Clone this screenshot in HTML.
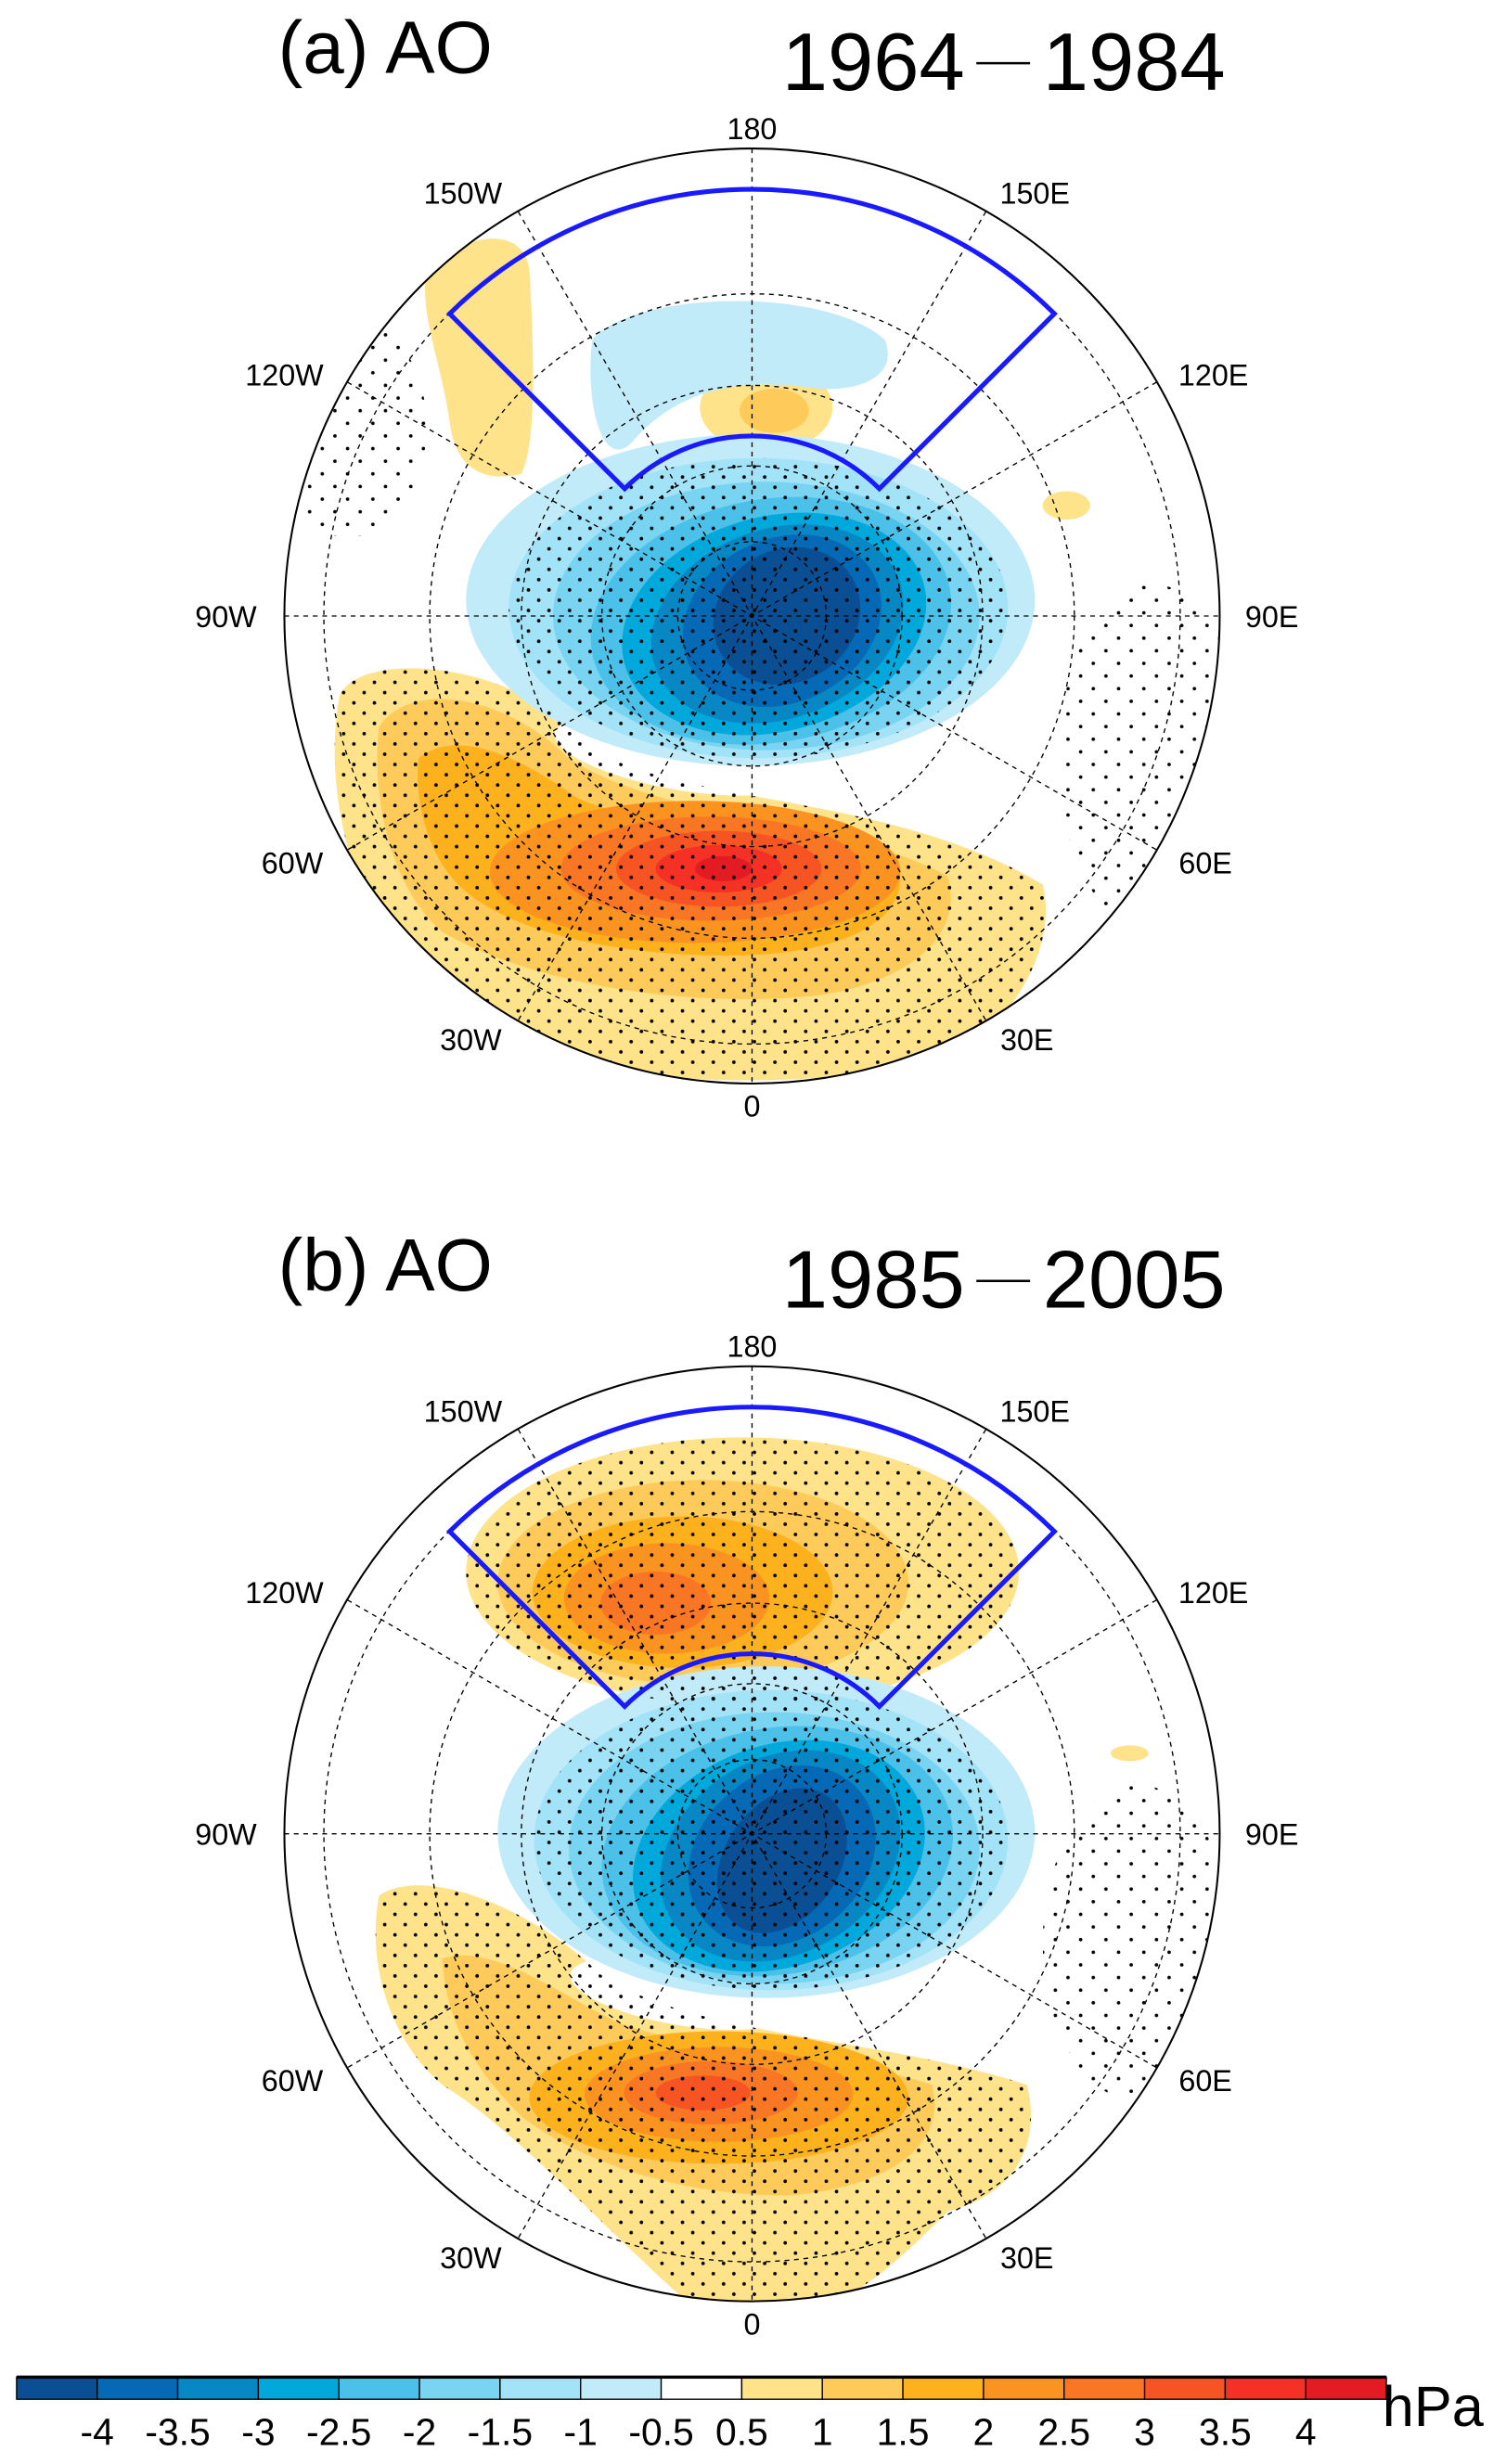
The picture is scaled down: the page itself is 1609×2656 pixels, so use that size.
<!DOCTYPE html>
<html><head><meta charset="utf-8"><style>html,body{margin:0;padding:0;background:#fff}svg{display:block}</style></head>
<body>
<svg width="1609" height="2656" viewBox="0 0 945 1560" preserveAspectRatio="none" xmlns="http://www.w3.org/2000/svg" font-family="Liberation Sans, sans-serif">
<defs>
<pattern id="dots" width="13" height="13" patternUnits="userSpaceOnUse"><circle cx="3" cy="3" r="1.1" fill="#000"/><circle cx="9.5" cy="9.5" r="1.1" fill="#000"/></pattern>
<pattern id="sdots" width="16" height="16" patternUnits="userSpaceOnUse"><circle cx="4" cy="4" r="1.1" fill="#000"/><circle cx="12" cy="12" r="1.1" fill="#000"/></pattern>
<clipPath id="ca"><circle cx="476" cy="390" r="296"/></clipPath>
<clipPath id="cb"><circle cx="476" cy="1161" r="296"/></clipPath>
</defs>

<text x="176" y="46" font-size="47">(a) AO</text>
<text x="495" y="57" font-size="52">1964</text><line x1="618" y1="40" x2="652" y2="40" stroke="#000" stroke-width="1.5"/><text x="660" y="57" font-size="52">1984</text>
<text x="176" y="817" font-size="47">(b) AO</text>
<text x="495" y="828" font-size="52">1985</text><line x1="618" y1="811" x2="652" y2="811" stroke="#000" stroke-width="1.5"/><text x="660" y="828" font-size="52">2005</text>

<g clip-path="url(#ca)">
 <path d="M270 170 C290 150 330 140 335 170 C338 220 340 280 330 300 C310 305 290 300 285 270 C280 230 265 200 270 170Z" fill="#fee38a"/>
 <ellipse cx="675" cy="320" rx="15" ry="9" fill="#fee38a"/>
 <path d="M215 440 C230 410 330 420 370 470 C420 510 560 500 660 560 C670 600 640 650 600 670 C520 690 400 690 300 660 C240 620 200 520 215 440Z" fill="#fee38a"/>
 <path d="M240 460 C260 430 320 440 360 480 C420 520 540 520 600 555 C610 590 580 620 520 630 C430 640 330 620 280 590 C245 560 235 500 240 460Z" fill="#fecb5a"/>
 <path d="M265 480 C290 460 330 480 365 505 C420 530 520 530 570 555 C570 590 520 605 460 605 C390 605 320 590 290 560 C270 540 262 505 265 480Z" fill="#fdb11c"/>
 <ellipse cx="440" cy="552" rx="130" ry="45" fill="#fb9320"/>
 <ellipse cx="450" cy="550" rx="95" ry="33" fill="#f97624"/>
 <ellipse cx="455" cy="550" rx="65" ry="24" fill="#f75423"/>
 <ellipse cx="455" cy="550" rx="40" ry="15" fill="#f43124"/>
 <ellipse cx="458" cy="550" rx="18" ry="8" fill="#e31b23"/>
 <ellipse cx="430" cy="478" rx="80" ry="22" fill="#fff" transform="rotate(10 430 478)"/>
 <ellipse cx="485" cy="258" rx="42" ry="28" fill="#fee38a"/>
 <ellipse cx="490" cy="260" rx="22" ry="14" fill="#fecb5a"/>
 <path d="M375 215 C400 185 520 180 560 215 C570 240 540 250 510 245 C470 240 430 245 400 280 C380 300 370 250 375 215Z" fill="#c2ebf9"/>
 <ellipse cx="475" cy="380" rx="180" ry="105" fill="#c2ebf9"/>
 <ellipse cx="480" cy="385" rx="158" ry="95" fill="#a3e3f8"/>
 <ellipse cx="485" cy="390" rx="135" ry="85" fill="#79d4f2"/>
 <ellipse cx="488" cy="393" rx="115" ry="77" fill="#4bc0e8" transform="rotate(-10 488 393)"/>
 <ellipse cx="490" cy="395" rx="98" ry="68" fill="#00a8dc" transform="rotate(-15 490 395)"/>
 <ellipse cx="492" cy="395" rx="82" ry="60" fill="#0787c4" transform="rotate(-20 492 395)"/>
 <ellipse cx="495" cy="393" rx="65" ry="52" fill="#0569b5" transform="rotate(-25 495 393)"/>
 <ellipse cx="498" cy="390" rx="48" ry="42" fill="#0a4f93" transform="rotate(-30 498 390)"/>
 <path d="M215 440 C230 410 330 420 370 470 C420 510 560 500 660 560 C670 600 640 650 600 670 C520 690 400 690 300 660 C240 620 200 520 215 440Z" fill="url(#dots)"/>
 <ellipse cx="480" cy="385" rx="158" ry="95" fill="url(#dots)"/>
 <ellipse cx="220" cy="270" rx="50" ry="70" fill="url(#sdots)"/>
 <ellipse cx="730" cy="480" rx="60" ry="110" fill="url(#sdots)"/>
</g>

<g clip-path="url(#cb)">
 <ellipse cx="470" cy="995" rx="175" ry="85" fill="#fee38a"/>
 <ellipse cx="445" cy="1002" rx="130" ry="65" fill="#fecb5a"/>
 <ellipse cx="432" cy="1008" rx="95" ry="48" fill="#fdb11c"/>
 <ellipse cx="422" cy="1012" rx="65" ry="35" fill="#fb9320"/>
 <ellipse cx="415" cy="1015" rx="35" ry="20" fill="#f97624"/>
 <ellipse cx="715" cy="1110" rx="12" ry="5" fill="#fee38a"/>
 <path d="M240 1200 C270 1180 340 1210 380 1250 C440 1290 560 1290 650 1320 C660 1360 640 1390 600 1400 C560 1440 520 1480 450 1470 C400 1430 330 1350 280 1320 C245 1290 232 1240 240 1200Z" fill="#fee38a"/>
 <path d="M280 1240 C310 1230 350 1260 390 1280 C440 1300 530 1300 590 1320 C600 1360 560 1385 500 1390 C430 1390 370 1370 330 1340 C300 1310 282 1280 280 1240Z" fill="#fecb5a"/>
 <ellipse cx="455" cy="1328" rx="120" ry="42" fill="#fdb11c"/>
 <ellipse cx="455" cy="1326" rx="85" ry="30" fill="#fb9320"/>
 <ellipse cx="450" cy="1325" rx="55" ry="20" fill="#f97624"/>
 <ellipse cx="445" cy="1325" rx="30" ry="11" fill="#f75423"/>
 <ellipse cx="430" cy="1262" rx="70" ry="20" fill="#fff" transform="rotate(10 430 1262)"/>
 <ellipse cx="485" cy="1160" rx="170" ry="105" fill="#c2ebf9"/>
 <ellipse cx="488" cy="1165" rx="150" ry="95" fill="#a3e3f8"/>
 <ellipse cx="490" cy="1170" rx="130" ry="86" fill="#79d4f2"/>
 <ellipse cx="492" cy="1172" rx="112" ry="78" fill="#4bc0e8" transform="rotate(-10 492 1172)"/>
 <ellipse cx="493" cy="1175" rx="95" ry="70" fill="#00a8dc" transform="rotate(-20 493 1175)"/>
 <ellipse cx="494" cy="1175" rx="80" ry="62" fill="#0787c4" transform="rotate(-30 494 1175)"/>
 <ellipse cx="495" cy="1175" rx="64" ry="52" fill="#0569b5" transform="rotate(-40 495 1175)"/>
 <ellipse cx="495" cy="1178" rx="50" ry="36" fill="#0a4f93" transform="rotate(-55 495 1178)"/>
 <ellipse cx="470" cy="995" rx="175" ry="85" fill="url(#dots)"/>
 <ellipse cx="488" cy="1165" rx="150" ry="95" fill="url(#dots)"/>
 <path d="M240 1200 C270 1180 340 1210 380 1250 C440 1290 560 1290 650 1320 C660 1360 640 1390 600 1400 C560 1440 520 1480 450 1470 C400 1430 330 1350 280 1320 C245 1290 232 1240 240 1200Z" fill="url(#dots)"/>
 <ellipse cx="720" cy="1230" rx="60" ry="100" fill="url(#sdots)"/>
</g>

<g fill="none" stroke="#000" stroke-width="0.8" stroke-dasharray="3,3">
 <g id="ga">
  <circle cx="476" cy="390" r="47"/><circle cx="476" cy="390" r="95"/><circle cx="476" cy="390" r="146"/><circle cx="476" cy="390" r="204"/><circle cx="476" cy="390" r="271"/>
  <line x1="476" y1="94" x2="476" y2="686"/><line x1="180" y1="390" x2="772" y2="390"/>
  <line x1="328" y1="134" x2="624" y2="646"/><line x1="624" y1="134" x2="328" y2="646"/>
  <line x1="220" y1="242" x2="732" y2="538"/><line x1="732" y1="242" x2="220" y2="538"/>
 </g>
 <use href="#ga" transform="translate(0,771)"/>
</g>
<g fill="none" stroke="#000" stroke-width="1.2">
 <circle cx="476" cy="390" r="296"/><circle cx="476" cy="1161" r="296"/>
</g>
<g fill="none" stroke="#1a1aff" stroke-width="3">
 <path d="M284.6 198.6 A272 272 0 0 1 667.4 198.6 L556.6 309.4 A114 114 0 0 0 395.4 309.4 Z"/>
 <path d="M284.6 969.6 A272 272 0 0 1 667.4 969.6 L556.6 1080.4 A114 114 0 0 0 395.4 1080.4 Z"/>
</g>

<g font-size="19" text-anchor="middle">
 <text x="476" y="88">180</text><text x="293" y="129">150W</text><text x="655" y="129">150E</text>
 <text x="180" y="244">120W</text><text x="768" y="244">120E</text>
 <text x="143" y="397">90W</text><text x="805" y="397">90E</text>
 <text x="185" y="553">60W</text><text x="763" y="553">60E</text>
 <text x="298" y="665">30W</text><text x="650" y="665">30E</text>
 <text x="476" y="707">0</text>
</g>
<g font-size="19" text-anchor="middle" transform="translate(0,771)">
 <text x="476" y="88">180</text><text x="293" y="129">150W</text><text x="655" y="129">150E</text>
 <text x="180" y="244">120W</text><text x="768" y="244">120E</text>
 <text x="143" y="397">90W</text><text x="805" y="397">90E</text>
 <text x="185" y="553">60W</text><text x="763" y="553">60E</text>
 <text x="298" y="665">30W</text><text x="650" y="665">30E</text>
 <text x="476" y="707">0</text>
</g>

<g stroke="#000" stroke-width="0.8">
 <rect x="10.5" y="1505" width="51" height="14" fill="#0a4f93"/>
 <rect x="61.5" y="1505" width="51" height="14" fill="#0569b5"/>
 <rect x="112.5" y="1505" width="51" height="14" fill="#0787c4"/>
 <rect x="163.5" y="1505" width="51" height="14" fill="#00a8dc"/>
 <rect x="214.5" y="1505" width="51" height="14" fill="#4bc0e8"/>
 <rect x="265.5" y="1505" width="51" height="14" fill="#79d4f2"/>
 <rect x="316.5" y="1505" width="51" height="14" fill="#a3e3f8"/>
 <rect x="367.5" y="1505" width="51" height="14" fill="#c2ebf9"/>
 <rect x="418.5" y="1505" width="51" height="14" fill="#ffffff"/>
 <rect x="469.5" y="1505" width="51" height="14" fill="#fee38a"/>
 <rect x="520.5" y="1505" width="51" height="14" fill="#fecb5a"/>
 <rect x="571.5" y="1505" width="51" height="14" fill="#fdb11c"/>
 <rect x="622.5" y="1505" width="51" height="14" fill="#fb9320"/>
 <rect x="673.5" y="1505" width="51" height="14" fill="#f97624"/>
 <rect x="724.5" y="1505" width="51" height="14" fill="#f75423"/>
 <rect x="775.5" y="1505" width="51" height="14" fill="#f43124"/>
 <rect x="826.5" y="1505" width="51" height="14" fill="#e31b23"/>
</g>
<rect x="10.5" y="1504" width="867" height="2" fill="#000"/>
<g font-size="24" text-anchor="middle">
 <text x="61.5" y="1548">-4</text><text x="112.5" y="1548">-3.5</text><text x="163.5" y="1548">-3</text><text x="214.5" y="1548">-2.5</text>
 <text x="265.5" y="1548">-2</text><text x="316.5" y="1548">-1.5</text><text x="367.5" y="1548">-1</text><text x="418.5" y="1548">-0.5</text>
 <text x="469.5" y="1548">0.5</text><text x="520.5" y="1548">1</text><text x="571.5" y="1548">1.5</text><text x="622.5" y="1548">2</text>
 <text x="673.5" y="1548">2.5</text><text x="724.5" y="1548">3</text><text x="775.5" y="1548">3.5</text><text x="826.5" y="1548">4</text>
</g>
<text x="875" y="1536" font-size="36">hPa</text>
</svg>
</body></html>
